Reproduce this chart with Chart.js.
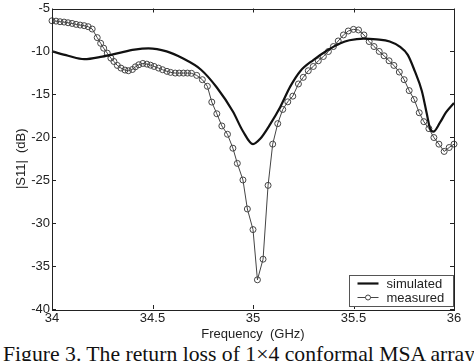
<!DOCTYPE html>
<html lang="en">
<head>
    <meta charset="UTF-8">
    <title>Return loss of 1x4 conformal MSA array</title>
    <style>
        body {
            margin: 0;
            width: 474px;
            height: 361px;
            overflow: hidden;
            background: #fff;
            position: relative;
        }

        #s11-chart {
            position: absolute;
            left: 0;
            top: 0;
        }

        .caption {
            position: absolute;
            left: 3px;
            top: 344px;
            font-family: "Liberation Serif", serif;
            font-size: 21.7px;
            line-height: 21.7px;
            color: #111;
            white-space: nowrap;
        }
    </style>
    <script src="https://cdn.jsdelivr.net/npm/chart.js"></script>
</head>

<body>
    <canvas id="s11-chart" width="474" height="341"></canvas>
    <div class="caption">Figure 3. The return loss of 1×4 conformal MSA array</div>

    <script>
        // values (GHz / dB)
        const simFreq = [34.0, 34.08, 34.16, 34.25, 34.33, 34.41, 34.48, 34.57, 34.65, 34.74, 34.82, 34.9, 34.95, 35.0,
            35.035, 35.085, 35.135, 35.185, 35.235, 35.3, 35.365, 35.435, 35.48, 35.55, 35.615, 35.68, 35.73, 35.77,
            35.805, 35.84, 35.865, 35.88, 35.897, 35.93, 35.96, 36.0];
        const simS11 = [-10.0, -10.5, -10.9, -10.6, -10.2, -9.8, -9.65, -10.0, -10.8, -12.1, -14.2, -17.0, -19.3, -20.8,
            -20.2, -18.5, -16.5, -14.1, -12.3, -11.0, -9.95, -9.05, -8.7, -8.5, -8.6, -8.85, -9.45, -10.4,
            -12.3, -14.6, -17.3, -18.9, -19.35, -18.3, -17.1, -16.0];

        const measFreq = [34.0, 34.02, 34.04, 34.06, 34.08, 34.1, 34.12, 34.14, 34.16, 34.18, 34.2, 34.225, 34.242,
            34.257, 34.275, 34.293, 34.308, 34.325, 34.343, 34.363, 34.38, 34.4, 34.415, 34.432, 34.452, 34.472,
            34.49, 34.508, 34.53, 34.55, 34.572, 34.59, 34.613, 34.633, 34.654, 34.674, 34.694, 34.72, 34.748,
            34.773, 34.795, 34.82, 34.845, 34.873, 34.9, 34.922, 34.95, 34.972, 35.0, 35.022, 35.05, 35.075,
            35.098, 35.123, 35.148, 35.173, 35.198, 35.226, 35.25, 35.275, 35.3, 35.325, 35.35, 35.375, 35.4,
            35.424, 35.45, 35.474, 35.5, 35.525, 35.552, 35.578, 35.602, 35.628, 35.652, 35.677, 35.701, 35.728,
            35.752, 35.777, 35.802, 35.827, 35.85, 35.875, 35.9, 35.925, 35.951, 35.976, 36.0];
        const measS11 = [-6.43, -6.47, -6.54, -6.58, -6.66, -6.74, -6.85, -6.93, -7.0, -7.12, -7.39, -8.39, -9.05,
            -9.62, -10.2, -10.78, -11.17, -11.63, -11.94, -12.17, -12.25, -12.1, -11.79, -11.55, -11.4, -11.48,
            -11.6, -11.75, -11.94, -12.13, -12.32, -12.44, -12.52, -12.52, -12.52, -12.52, -12.55, -12.79, -13.29,
            -14.06, -15.9, -17.26, -18.68, -19.65, -21.27, -23.04, -24.97, -28.35, -30.75, -36.6, -34.2, -25.6,
            -20.8, -18.41, -16.76, -15.87, -15.21, -13.79, -13.02, -12.25, -11.75, -11.09, -10.59, -10.01, -9.43,
            -8.78, -8.08, -7.62, -7.43, -7.5, -8.08, -8.85, -9.43, -10.0, -10.51, -11.09, -11.63, -12.4,
            -13.29, -14.56, -15.6, -17.14, -18.18, -18.99, -20.03, -20.8, -21.65, -21.19, -20.8];

        const seriesNames = ['simulated', 'measured'];
        const xTicks = [34, 34.5, 35, 35.5, 36];
        const yTicks = [-40, -35, -30, -25, -20, -15, -10, -5];

        const axisColor = '#222';
        const textFont = { family: '"Liberation Sans", Arial, sans-serif', size: 13, lineHeight: 1 };

        function toPoints(xs, ys) {
            return xs.map((x, i) => ({ x: x, y: ys[i] }));
        }

        // box round the plot, inward ticks (matlab style) and the legend box
        const framePlugin = {
            id: 'frame',
            afterDraw(chart) {
                const ctx = chart.ctx;
                const a = chart.chartArea;
                const xs = chart.scales.x;
                const ys = chart.scales.y;
                ctx.save();
                ctx.strokeStyle = axisColor;
                ctx.lineWidth = 1;
                ctx.strokeRect(Math.round(a.left) + 0.5, Math.round(a.top) + 0.5,
                    Math.round(a.right - a.left), Math.round(a.bottom - a.top));

                ctx.beginPath();
                xTicks.forEach(v => {
                    const px = Math.round(xs.getPixelForValue(v)) + 0.5;
                    ctx.moveTo(px, a.top);
                    ctx.lineTo(px, a.top + 4);
                    ctx.moveTo(px, a.bottom);
                    ctx.lineTo(px, a.bottom - 4);
                });
                yTicks.forEach(v => {
                    const py = Math.round(ys.getPixelForValue(v)) + 0.5;
                    ctx.moveTo(a.left, py);
                    ctx.lineTo(a.left + 4, py);
                    ctx.moveTo(a.right, py);
                    ctx.lineTo(a.right - 4, py);
                });
                ctx.stroke();

                // legend
                const w = 104, h = 31;
                const x0 = Math.round(a.right - w - 1) + 0.5;
                const y0 = Math.round(a.bottom - h - 3) + 0.5;
                ctx.fillStyle = '#fff';
                ctx.fillRect(x0, y0, w, h);
                ctx.strokeStyle = '#555';
                ctx.strokeRect(x0, y0, w, h);
                ctx.font = '13px "Liberation Sans", Arial, sans-serif';
                ctx.textBaseline = 'middle';
                chart.data.datasets.forEach((ds, i) => {
                    const ly = y0 + 8 + i * 14;
                    ctx.strokeStyle = ds.borderColor;
                    ctx.lineWidth = ds.borderWidth;
                    ctx.beginPath();
                    ctx.moveTo(x0 + 8, ly);
                    ctx.lineTo(x0 + 29, ly);
                    ctx.stroke();
                    if (ds.pointRadius > 0) {
                        ctx.lineWidth = 1;
                        ctx.fillStyle = '#fff';
                        ctx.beginPath();
                        ctx.arc(x0 + 18.5, ly, ds.pointRadius - 0.5, 0, Math.PI * 2);
                        ctx.fill();
                        ctx.stroke();
                    }
                    ctx.fillStyle = '#222';
                    ctx.fillText(ds.label, x0 + 37, ly + 1);
                });
                ctx.restore();
            }
        };

        const ctx = document.getElementById('s11-chart').getContext('2d');
        new Chart(ctx, {
            type: 'line',
            data: {
                datasets: [{
                    label: seriesNames[0],
                    data: toPoints(simFreq, simS11),
                    borderColor: '#111',
                    borderWidth: 2.2,
                    pointRadius: 0,
                    fill: false,
                    cubicInterpolationMode: 'monotone',
                    clip: false
                }, {
                    label: seriesNames[1],
                    data: toPoints(measFreq, measS11),
                    borderColor: '#444',
                    borderWidth: 1,
                    pointRadius: 3,
                    pointBorderWidth: 1,
                    pointBorderColor: '#444',
                    pointBackgroundColor: 'rgba(255,255,255,0)',
                    fill: false,
                    tension: 0,
                    clip: false
                }]
            },
            options: {
                responsive: false,
                animation: false,
                events: [],
                layout: {
                    padding: { left: 15, right: 20, top: 7, bottom: 0 }
                },
                scales: {
                    x: {
                        type: 'linear',
                        min: 34,
                        max: 36,
                        afterBuildTicks: s => { s.ticks = xTicks.map(v => ({ value: v })); },
                        afterFit: s => { s.height = 32; },
                        grid: { display: false, drawTicks: false },
                        border: { display: false },
                        ticks: {
                            padding: 3,
                            color: axisColor,
                            font: textFont,
                            maxRotation: 0,
                            callback: v => String(v)
                        },
                        title: {
                            display: true,
                            text: 'Frequency  (GHz)',
                            color: axisColor,
                            font: textFont,
                            padding: 0
                        }
                    },
                    y: {
                        min: -40,
                        max: -5,
                        afterBuildTicks: s => { s.ticks = yTicks.map(v => ({ value: v })); },
                        afterFit: s => { s.width = 37; },
                        grid: { display: false, drawTicks: false },
                        border: { display: false },
                        ticks: {
                            padding: 2,
                            color: axisColor,
                            font: textFont,
                            callback: v => String(v)
                        },
                        title: {
                            display: true,
                            text: '|S11|  (dB)',
                            color: axisColor,
                            font: textFont,
                            padding: 0
                        }
                    }
                },
                plugins: {
                    legend: { display: false },
                    tooltip: { enabled: false }
                }
            },
            plugins: [framePlugin]
        });
    </script>
</body>

</html>
